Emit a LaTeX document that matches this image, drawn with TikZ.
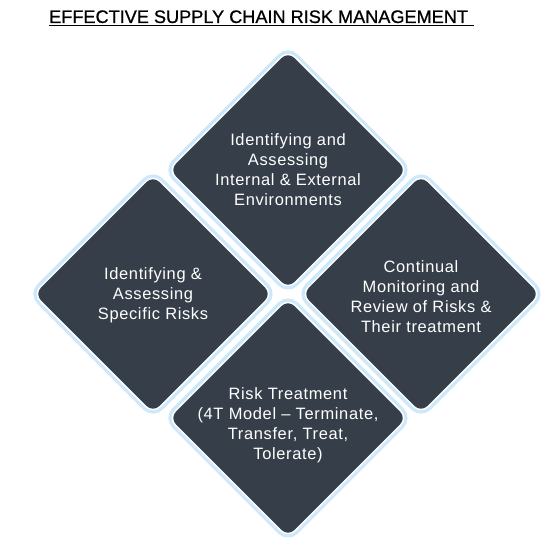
\documentclass[tikz,border=0pt]{standalone}
\usepackage{fontspec}
\setmainfont{Liberation Sans}
\newfontfamily\boxfont[LetterSpace=4]{Liberation Sans}
\newfontfamily\titlefont[FakeBold=0.8]{Liberation Sans}
\usepackage{tikz}
\usetikzlibrary{
	shapes.geometric,
	positioning,
	}
\definecolor{slate}{HTML}{363F49}
\definecolor{paleblue}{HTML}{CDE8FA}
\tikzset{
	riskbox/.style={shape=diamond, fill=slate, draw=white, line width=1.5bp,
		minimum size=240bp, inner sep=0pt, rounded corners=10bp,
		preaction={draw=paleblue, line width=8bp}},
	risktext/.style={text=white, align=center, inner sep=0pt,
		font=\boxfont\fontsize{16.5}{20}\selectfont},
}
\begin{document}
\begin{tikzpicture}[x=1bp, y=-1bp]
		\useasboundingbox (0,0) rectangle (556,542);
		\node[anchor=base west, inner sep=0pt, font=\titlefont\fontsize{18.2}{20}\selectfont] (title) at (49,23) {EFFECTIVE SUPPLY CHAIN RISK MANAGEMENT};
		\draw[line width=1bp] ([yshift=-3bp]title.base west) -- ([xshift=6bp, yshift=-3bp]title.base east);
		\node[riskbox] (env) at (288,170) {};
		\node[riskbox] (specific) at (153,294) {};
		\node[riskbox] (monitor) at (421,294) {};
		\node[riskbox] (treat) at (288,418) {};
		\node[risktext] (envtext) at (env) {Identifying and\\Assessing\\Internal \& External\\Environments};
		\node[risktext, yshift=-1bp] (specifictext) at (specific) {Identifying \&\\Assessing\\Specific Risks};
		\node[risktext, yshift=-3bp] (monitortext) at (monitor) {Continual\\Monitoring and\\Review of Risks \&\\Their treatment};
		\node[risktext, yshift=-7bp] (treattext) at (treat) {Risk Treatment\\(4T Model – Terminate,\\Transfer, Treat,\\Tolerate)};
	\end{tikzpicture}
\end{document}
